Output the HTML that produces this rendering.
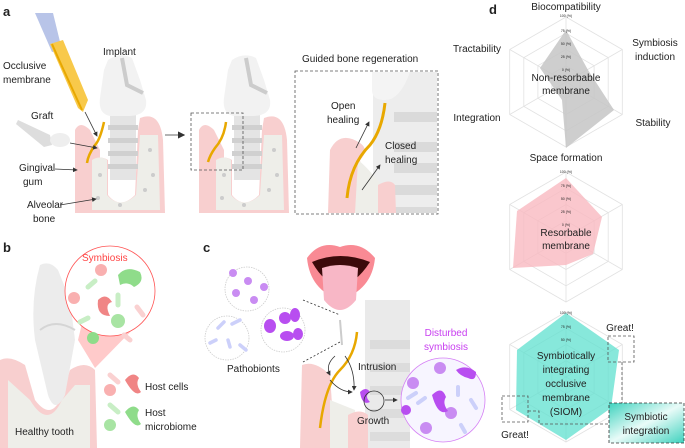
<!DOCTYPE html>
<html><head><meta charset="utf-8"><style>
body{margin:0;background:#fff}
svg{display:block}
text{font-family:"Liberation Sans",Arial,sans-serif;fill:#222}
</style></head><body>
<svg width="685" height="448" viewBox="0 0 685 448" xmlns="http://www.w3.org/2000/svg">
<defs>
<marker id="ar" markerWidth="6" markerHeight="6" refX="5" refY="3" orient="auto"><path d="M0,0 L6,3 L0,6z" fill="#333"/></marker>
<linearGradient id="tg" x1="0" y1="0" x2="1" y2="1"><stop offset="0" stop-color="#3fd2be"/><stop offset="0.5" stop-color="#e9fbf8"/><stop offset="1" stop-color="#3fd2be"/></linearGradient>
<g id="hex" fill="none" stroke="#e2e2e2" stroke-width="0.8">
<polygon points="0,-65 56.3,-32.5 56.3,32.5 0,65 -56.3,32.5 -56.3,-32.5"/>
<polygon points="0,-48.8 42.2,-24.4 42.2,24.4 0,48.8 -42.2,24.4 -42.2,-24.4"/>
<polygon points="0,-32.5 28.1,-16.3 28.1,16.3 0,32.5 -28.1,16.3 -28.1,-16.3"/>
<polygon points="0,-16.3 14.1,-8.1 14.1,8.1 0,16.3 -14.1,8.1 -14.1,-8.1"/>
<path d="M0,-65V65M-56.3,-32.5L56.3,32.5M56.3,-32.5L-56.3,32.5"/>
</g>
<g id="imp">
<path d="M75,130 Q80,120 90,130 L100,150 L100,213 L75,213 Z" fill="#f8cfcf"/>
<path d="M140,118 Q160,110 163,140 L165,213 L90,213 L90,160 Q100,155 108,160 L108,195 Q120,210 135,195 L138,130 Z" fill="#f8cfcf"/>
<path d="M92,160 Q100,155 107,160 L107,195 Q120,210 136,195 L140,135 L158,135 L160,210 L92,210 Z" fill="#eeeee9"/>
<g fill="#ccc"><circle cx="100" cy="175" r="2"/><circle cx="150" cy="150" r="2"/><circle cx="145" cy="190" r="2"/><circle cx="120" cy="205" r="2"/><circle cx="98" cy="198" r="2"/><circle cx="153" cy="175" r="2"/></g>
<rect x="110" y="115" width="26" height="65" fill="#e4e4e4"/>
<g fill="#d0d0d0"><rect x="108" y="125" width="30" height="5"/><rect x="108" y="138" width="30" height="5"/><rect x="108" y="151" width="30" height="5"/><rect x="108" y="164" width="30" height="5"/></g>
<path d="M108,60 Q120,52 132,58 L140,80 L146,100 Q148,115 130,116 L110,116 Q98,114 100,98 L104,70 Z" fill="#f2f2f2"/>
<path d="M122,58 L127,85 L143,93" stroke="#ccc" stroke-width="4" fill="none"/>
</g>
</defs>
<!-- Panel a -->
<text x="3" y="16" font-weight="bold" font-size="13">a</text>
<polygon points="35,13 53,13 62,50 52,52" fill="#b8c4e8"/>
<path d="M50,44 L63,40 L88,100 L83,112 L78,108 Z" fill="#f8c94a"/>
<path d="M52,44 L60,62 L82,110" stroke="#e8a800" stroke-width="2" fill="none"/>
<polygon points="18,120 50,135 52,145 44,147 16,124" fill="#ddd"/>
<ellipse cx="60" cy="140" rx="10" ry="7" fill="#eee"/>
<use href="#imp"/>
<use href="#imp" transform="translate(124,0)"/>
<path d="M104,122 Q100,140 95,145 Q88,155 87,163" stroke="#e8a800" stroke-width="2.5" fill="none"/>
<path d="M226,122 Q224,138 215,148 Q210,155 208,162" stroke="#e8a800" stroke-width="2.5" fill="none"/>
<text x="103" y="55" font-size="10">Implant</text>
<text x="3" y="69" font-size="10">Occlusive</text>
<text x="3" y="83" font-size="10">membrane</text>
<text x="31" y="119" font-size="10">Graft</text>
<text x="19" y="171" font-size="10">Gingival</text>
<text x="23" y="185" font-size="10">gum</text>
<text x="27" y="208" font-size="10">Alveolar</text>
<text x="33" y="222" font-size="10">bone</text>
<g stroke="#333" stroke-width="0.8" fill="none" marker-end="url(#ar)">
<line x1="85" y1="112" x2="97" y2="136"/><line x1="70" y1="143" x2="97" y2="148"/>
<line x1="55" y1="169" x2="77" y2="170"/><line x1="60" y1="205" x2="96" y2="199"/>
<line x1="165" y1="135" x2="184" y2="135" stroke="#888" stroke-width="1.2"/>
</g>
<rect x="191" y="113" width="52" height="57" fill="none" stroke="#555" stroke-dasharray="3,2" stroke-width="0.8"/>
<text x="302" y="62" font-size="10">Guided bone regeneration</text>
<rect x="295" y="71" width="143" height="143" fill="#fff" stroke="#555" stroke-dasharray="3,2" stroke-width="0.8"/>
<rect x="373" y="72" width="64" height="141" fill="#ededed"/>
<g fill="#dadada"><rect x="394" y="112" width="43" height="10"/><rect x="394" y="142" width="43" height="10"/><rect x="394" y="163" width="43" height="10"/><rect x="394" y="185" width="43" height="10"/><rect x="394" y="207" width="43" height="6"/></g>
<path d="M372,72 L410,72 Q400,100 385,100 Q372,100 372,90Z" fill="#f4f4f4"/>
<path d="M328,213 L330,150 Q340,130 360,143 Q370,150 360,160 L370,213Z" fill="#f8cfcf"/>
<path d="M358,160 Q365,165 380,183 L385,213 L355,213 Z" fill="#eeeee9"/>
<path d="M378,185 Q390,178 395,185 L396,213 L378,213Z" fill="#f8cfcf"/>
<path d="M385,103 Q382,130 370,145 Q350,165 347,198" stroke="#e8a800" stroke-width="3" fill="none"/>
<text x="331" y="109" font-size="10">Open</text>
<text x="327" y="123" font-size="10">healing</text>
<text x="385" y="149" font-size="10">Closed</text>
<text x="385" y="163" font-size="10">healing</text>
<g stroke="#333" stroke-width="0.8" marker-end="url(#ar)"><line x1="356" y1="148" x2="369" y2="122"/><line x1="362" y1="190" x2="380" y2="165"/></g>

<!-- Panel d radars -->
<text x="489" y="14" font-weight="bold" font-size="13">d</text>
<use href="#hex" transform="translate(566,82)"/>
<use href="#hex" transform="translate(566,237)"/>
<use href="#hex" transform="translate(566,377)"/>
<polygon points="566,30 588,70 614,110 566,148 562,100 540,68" fill="#c6c6c6" opacity="0.85"/>
<polygon points="566,178 602,217 593,254 566,265 513,268 517,211" fill="#f9b9c0" opacity="0.8"/>
<polygon points="566,313 619,350 611,408 566,440 516,410 517,350" fill="#5fe0cf" opacity="0.75"/>
<g font-size="3.5" fill="#777" text-anchor="middle">
<text x="566" y="17">100 (%)</text><text x="566" y="32">75 (%)</text><text x="566" y="45">50 (%)</text><text x="566" y="58">25 (%)</text><text x="566" y="71">0 (%)</text>
<text x="566" y="173">100 (%)</text><text x="566" y="187">75 (%)</text><text x="566" y="200">50 (%)</text><text x="566" y="213">25 (%)</text><text x="566" y="226">0 (%)</text>
<text x="566" y="314">100 (%)</text><text x="566" y="328">75 (%)</text><text x="566" y="341">50 (%)</text>
</g>
<g font-size="10" text-anchor="middle">
<text x="566" y="10">Biocompatibility</text>
<text x="655" y="46">Symbiosis</text><text x="655" y="60">induction</text>
<text x="653" y="126">Stability</text>
<text x="477" y="52">Tractability</text>
<text x="477" y="121">Integration</text>
<text x="566" y="161">Space formation</text>
<text x="566" y="81">Non-resorbable</text><text x="566" y="94">membrane</text>
<text x="566" y="236">Resorbable</text><text x="566" y="249">membrane</text>
<text x="566" y="359">Symbiotically</text><text x="566" y="373">integrating</text><text x="566" y="387">occlusive</text><text x="566" y="401">membrane</text><text x="566" y="415">(SIOM)</text>
<text x="620" y="331">Great!</text><text x="515" y="438">Great!</text>
</g>
<g fill="none" stroke="#555" stroke-dasharray="3,2" stroke-width="0.8">
<rect x="608" y="336" width="26" height="26"/><rect x="502" y="396" width="26" height="26"/>
<path d="M622,362 V403 M528,411 H539 V424 H609"/>
</g>
<rect x="609" y="403" width="75" height="40" fill="url(#tg)" stroke="#333" stroke-dasharray="3,2" stroke-width="0.8"/>
<text x="646" y="420" font-size="10" text-anchor="middle">Symbiotic</text>
<text x="646" y="434" font-size="10" text-anchor="middle">integration</text>

<!-- Panel b -->
<text x="3" y="252" font-weight="bold" font-size="13">b</text>
<path d="M0,360 Q10,355 25,365 L35,400 Q50,420 60,400 L70,370 Q85,360 95,370 L97,448 L0,448Z" fill="#f8cfcf"/>
<path d="M8,380 L30,400 Q48,430 62,400 L75,385 L90,385 L90,448 L8,448Z" fill="#eeeee9"/>
<path d="M40,265 Q50,260 58,270 L70,300 L75,340 L65,395 Q55,415 48,395 L35,340 Q30,300 40,265Z" fill="#ececec"/>
<path d="M40,330 Q55,318 75,330" stroke="#d5d5d5" stroke-width="2" fill="none"/>
<polygon points="78,340 97,262 142,320 95,368" fill="#f66" opacity="0.35"/>
<circle cx="110" cy="291" r="45" fill="#fff" stroke="#f55" stroke-width="0.8"/>
<g fill="#f9b0b0"><circle cx="101" cy="270" r="6"/><circle cx="74" cy="298" r="6"/><path d="M98,300 q8,-8 14,2 q-8,2 -2,14 q-14,0 -12,-16Z" fill="#f08585"/></g>
<g fill="#8fdc8a"><path d="M118,275 q8,-10 22,-3 q5,10 -6,15 q-6,-6 -14,-2Z"/><circle cx="118" cy="321" r="7" fill="#a8e4a3"/><circle cx="93" cy="338" r="6"/></g>
<g stroke-width="5" stroke-linecap="round"><line x1="88" y1="287" x2="95" y2="281" stroke="#c8eec5"/><line x1="118" y1="295" x2="118" y2="305" stroke="#c8eec5"/><line x1="80" y1="322" x2="88" y2="318" stroke="#c8eec5"/><line x1="137" y1="307" x2="143" y2="315" stroke="#fad1d1"/><line x1="124" y1="335" x2="130" y2="340" stroke="#fad1d1"/></g>
<text x="82" y="261" font-size="10" style="fill:#f44">Symbiosis</text>
<line x1="110" y1="375" x2="118" y2="382" stroke="#fad1d1" stroke-width="5" stroke-linecap="round"/>
<circle cx="110" cy="390" r="6" fill="#f9b0b0"/>
<path d="M125,380 q8,-10 14,-2 q-4,6 2,14 q-6,6 -16,-12Z" fill="#f08585"/>
<line x1="110" y1="405" x2="118" y2="412" stroke="#c8eec5" stroke-width="5" stroke-linecap="round"/>
<circle cx="110" cy="425" r="6" fill="#a8e4a3"/>
<path d="M125,412 q8,-10 14,-2 q-4,6 2,14 q-6,6 -16,-12Z" fill="#8fdc8a"/>
<text x="145" y="390" font-size="10">Host cells</text>
<text x="145" y="416" font-size="10">Host</text>
<text x="145" y="430" font-size="10">microbiome</text>
<text x="15" y="435" font-size="10">Healthy tooth</text>

<!-- Panel c -->
<text x="203" y="252" font-weight="bold" font-size="13">c</text>
<circle cx="247" cy="289" r="22" fill="#fff" stroke="#ccc" stroke-dasharray="1.5,1" stroke-width="0.8"/>
<circle cx="227" cy="338" r="22" fill="#fff" stroke="#ccc" stroke-dasharray="1.5,1" stroke-width="0.8"/>
<circle cx="283" cy="330" r="22" fill="#fff" stroke="#ccc" stroke-dasharray="1.5,1" stroke-width="0.8"/>
<g fill="#c98cf2"><circle cx="233" cy="273" r="4"/><circle cx="248" cy="281" r="4"/><circle cx="264" cy="287" r="4"/><circle cx="236" cy="293" r="4"/><circle cx="254" cy="300" r="4"/></g>
<g stroke="#ccd0fa" stroke-width="3.5" stroke-linecap="round"><line x1="218" y1="328" x2="224" y2="322"/><line x1="232" y1="324" x2="240" y2="320"/><line x1="210" y1="343" x2="216" y2="340"/><line x1="228" y1="340" x2="230" y2="347"/><line x1="240" y1="345" x2="246" y2="350"/></g>
<g fill="#b84ef0"><ellipse cx="270" cy="326" rx="6" ry="7"/><ellipse cx="285" cy="318" rx="6" ry="6"/><ellipse cx="295" cy="315" rx="5" ry="7"/><ellipse cx="287" cy="336" rx="7" ry="5"/><ellipse cx="298" cy="334" rx="5" ry="6"/></g>
<text x="227" y="372" font-size="10">Pathobionts</text>
<path d="M303,300 L340,315 M303,362 L340,342" stroke="#333" stroke-dasharray="2,2" stroke-width="0.8"/>
<rect x="365" y="300" width="45" height="148" fill="#eaeaea"/>
<g fill="#dcdcdc"><rect x="370" y="340" width="40" height="9"/><rect x="370" y="363" width="40" height="9"/><rect x="370" y="386" width="40" height="9"/><rect x="370" y="409" width="40" height="9"/><rect x="370" y="432" width="40" height="9"/></g>
<path d="M302,365 Q315,360 330,375 L335,448 L300,448Z" fill="#f8cfcf"/>
<path d="M330,400 L355,410 L360,448 L330,448Z" fill="#eeeee9"/>
<path d="M348,415 Q360,408 368,415 L368,448 L348,448Z" fill="#f8cfcf"/>
<path d="M357,332 Q355,355 340,370 Q325,385 320,428" stroke="#e8a800" stroke-width="2.5" fill="none"/>
<path d="M307,258 Q320,240 340,247 Q360,240 375,258 Q372,290 340,300 Q310,290 307,258Z" fill="#f98a94"/>
<path d="M312,262 Q340,250 370,262 Q355,285 340,285 Q325,285 312,262Z" fill="#3b0a0a"/>
<path d="M322,268 Q340,262 358,268 L356,300 Q340,320 324,300Z" fill="#f8b7c6"/>
<path d="M340,320 L342,345" stroke="#ccc" stroke-width="2"/>
<g stroke="#333" stroke-width="0.8" fill="none" marker-end="url(#ar)"><path d="M335,356 Q325,365 330,375"/><path d="M345,356 Q355,370 354,390"/><path d="M330,380 Q340,392 352,392"/><path d="M385,400 L397,400"/></g>
<path d="M360,392 q6,-6 10,0 q-6,4 0,10 q-8,4 -10,-10Z" fill="#b84ef0"/>
<circle cx="374" cy="401" r="10" fill="none" stroke="#333" stroke-width="0.8"/>
<text x="358" y="370" font-size="10">Intrusion</text>
<text x="357" y="424" font-size="10">Growth</text>
<text x="446" y="336" font-size="10" text-anchor="middle" style="fill:#c83ef0">Disturbed</text>
<text x="446" y="350" font-size="10" text-anchor="middle" style="fill:#c83ef0">symbiosis</text>
<circle cx="443" cy="400" r="42" fill="#f7f5ff" stroke="#d580f5" stroke-width="0.8"/>
<g fill="#c98cf2"><circle cx="413" cy="383" r="6"/><circle cx="440" cy="368" r="6"/><circle cx="451" cy="413" r="6"/><circle cx="426" cy="428" r="6"/></g>
<g fill="#b84ef0"><path d="M456,370 q10,-6 20,2 q0,10 -8,6 q-8,-2 -12,-8Z"/><path d="M432,395 q10,-10 14,2 q-4,6 2,14 q-10,6 -16,-16Z"/><circle cx="406" cy="410" r="5"/></g>
<g stroke="#ccd0fa" stroke-width="4" stroke-linecap="round"><line x1="408" y1="398" x2="416" y2="393"/><line x1="458" y1="387" x2="458" y2="395"/><line x1="471" y1="400" x2="476" y2="408"/><line x1="418" y1="403" x2="425" y2="398"/><line x1="461" y1="425" x2="465" y2="432"/></g>
</svg>
</body></html>
